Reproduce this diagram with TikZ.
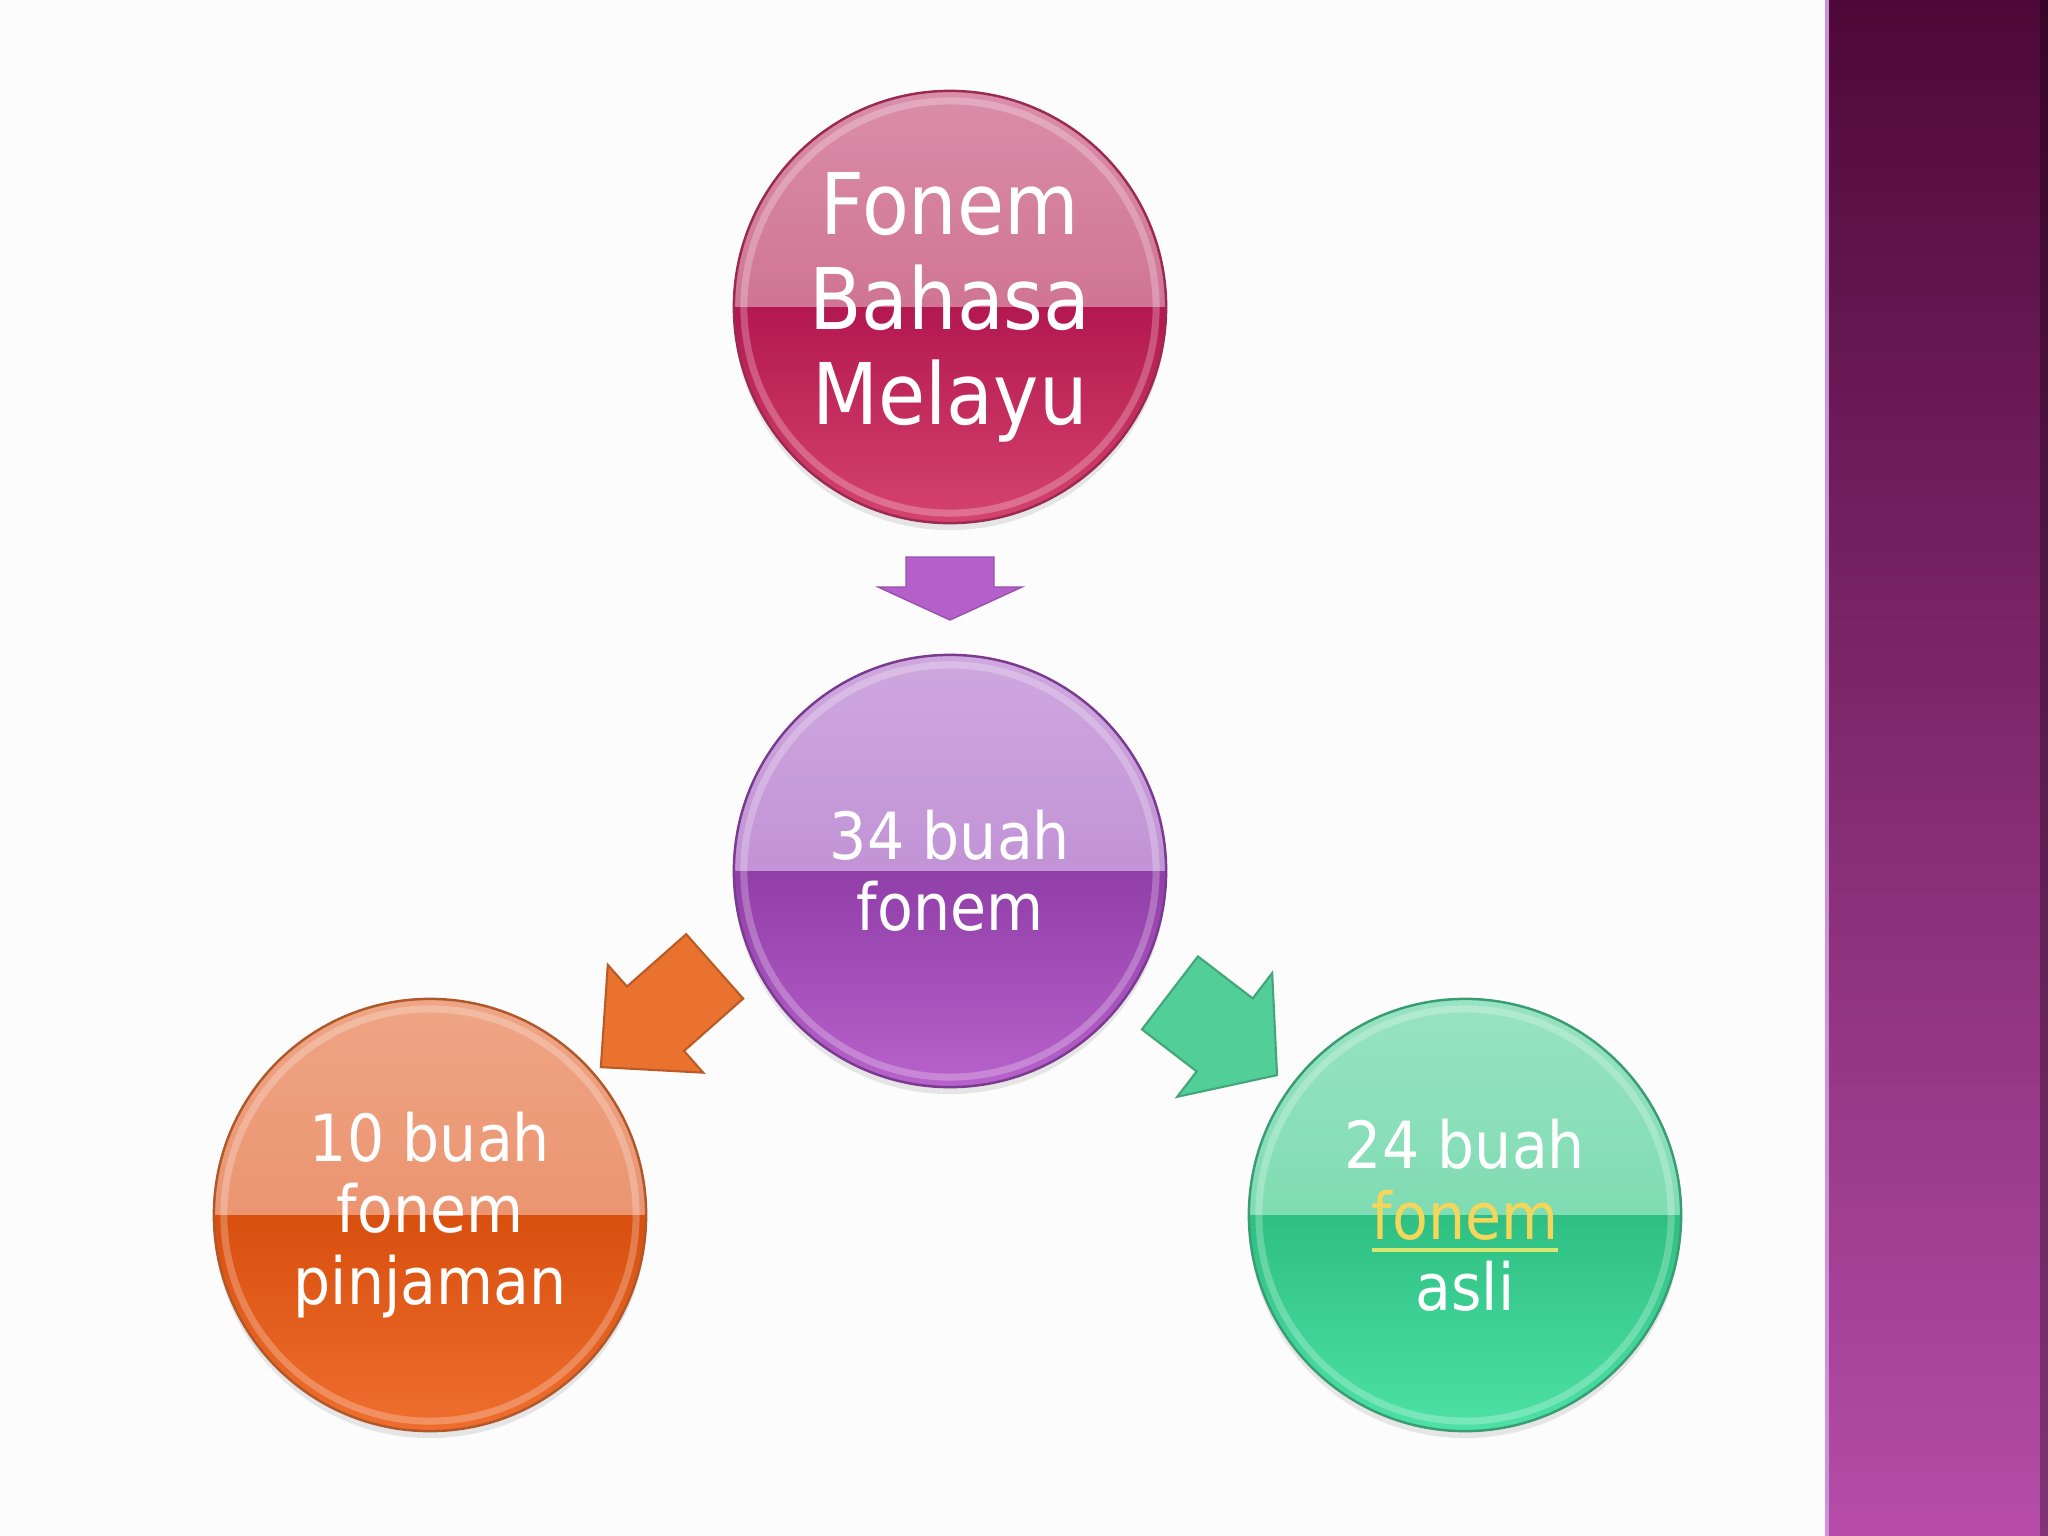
\documentclass[tikz,border=0pt]{standalone}
\usepackage{fontspec}
\setmainfont{DejaVu Sans Condensed}
\usetikzlibrary{shadows,calc,positioning}
\definecolor{pinkA}{HTML}{DA8EA8}
\definecolor{pinkB}{HTML}{C65C81}
\definecolor{pinkC}{HTML}{B3184E}
\definecolor{pinkD}{HTML}{D5436F}
\definecolor{pinkR}{HTML}{9A2A52}
\definecolor{violA}{HTML}{CFA8DF}
\definecolor{violB}{HTML}{B47ECD}
\definecolor{violC}{HTML}{903EA8}
\definecolor{violD}{HTML}{B862CB}
\definecolor{violR}{HTML}{7A3A90}
\definecolor{orngA}{HTML}{EFA585}
\definecolor{orngB}{HTML}{E7845C}
\definecolor{orngC}{HTML}{D84F0E}
\definecolor{orngD}{HTML}{EF6E2E}
\definecolor{orngR}{HTML}{B0582A}
\definecolor{grenA}{HTML}{98E3C2}
\definecolor{grenB}{HTML}{66D5A4}
\definecolor{grenC}{HTML}{2EBF82}
\definecolor{grenD}{HTML}{4DE1A6}
\definecolor{grenR}{HTML}{3A9C74}
\definecolor{arrowviol}{HTML}{B55FCB}
\definecolor{arroworng}{HTML}{E9722F}
\definecolor{arrowgren}{HTML}{52CF98}
\definecolor{sidetop}{HTML}{4E0838}
\definecolor{sidemid}{HTML}{84307A}
\definecolor{sidebot}{HTML}{B64CA8}
\definecolor{linkyellow}{HTML}{F4D65A}
\definecolor{linkline}{HTML}{D6E66E}
\newcommand{\linkword}[1]{\setbox0\hbox{#1}\rlap{\color{linkline}\rule[-0.2em]{\wd0}{1.1pt}}{\color{linkyellow}\box0}}
\tikzset{
  bubble/.style n args={5}{
    circle, minimum size=4.32cm, inner sep=0pt, align=center, text=white,
    draw=#5, line width=0.7pt,
    drop shadow={shadow xshift=0pt, shadow yshift=-0.07cm, opacity=0.18},
    path picture={
      \fill[top color=#1, bottom color=#2] (path picture bounding box.north west) rectangle (path picture bounding box.east);
      \fill[top color=#3, bottom color=#4] (path picture bounding box.west) rectangle (path picture bounding box.south east);
      \draw[white, opacity=0.25, line width=0.07cm] (path picture bounding box.center) circle (2.06cm);
    }
  },
  bigtext/.style={font=\fontsize{24.2}{27}\selectfont},
  smalltext/.style={font=\fontsize{18.5}{20.2}\selectfont},
  pics/blockarrow/.style n args={4}{code={
    \fill[pic actions] (-#1/2,-#3) -- (#1/2-#2,-#3) -- (#1/2-#2,-#4) -- (#1/2,0)
      -- (#1/2-#2,#4) -- (#1/2-#2,#3) -- (-#1/2,#3) -- cycle;
  }}
}
\begin{document}
\begin{tikzpicture}[x=0.01cm, y=-0.01cm]
  \useasboundingbox (0,0) rectangle (2048,1536);
  \fill[white!99!black] (0,0) rectangle (2048,1536);
  % side bar
  \fill[top color=sidetop, middle color=sidemid, bottom color=sidebot] (1826,0) rectangle (2048,1536);
  \fill[black, opacity=0.3] (2040,0) rectangle (2048,1536);
  \draw[violD!70!white, line width=1pt] (1827,0) -- (1827,1536);
  % circles
  \node[bubble={pinkA}{pinkB}{pinkC}{pinkD}{pinkR}, bigtext] (bahasa) at (950,307) {Fonem\\Bahasa\\Melayu};
  \node[bubble={violA}{violB}{violC}{violD}{violR}, smalltext] (jumlah) at (950,871) {34 buah\\fonem};
  \node[bubble={orngA}{orngB}{orngC}{orngD}{orngR}, smalltext] (pinjaman) at (430,1215) {10 buah\\fonem\\pinjaman};
  \node[bubble={grenA}{grenB}{grenC}{grenD}{grenR}, smalltext] (asli) at (1465,1215) {24 buah\\\linkword{fonem}\\asli};
  % arrows
  \pic[fill=arrowviol, draw=arrowviol!85!black, line width=0.4pt, rotate=-90] (down) at (950,588.5) {blockarrow={63}{33}{44}{72}};
  \pic[fill=arroworng, draw=arroworng!80!black, line width=0.6pt, rotate=-138.5] (kiri) at (657.75,1016.75) {blockarrow={152}{73}{43}{72}};
  \pic[fill=arrowgren, draw=arrowgren!80!black, line width=0.6pt, rotate=-37.5] (kanan) at (1223.5,1034) {blockarrow={135}{66}{46}{78}};
\end{tikzpicture}
\end{document}
